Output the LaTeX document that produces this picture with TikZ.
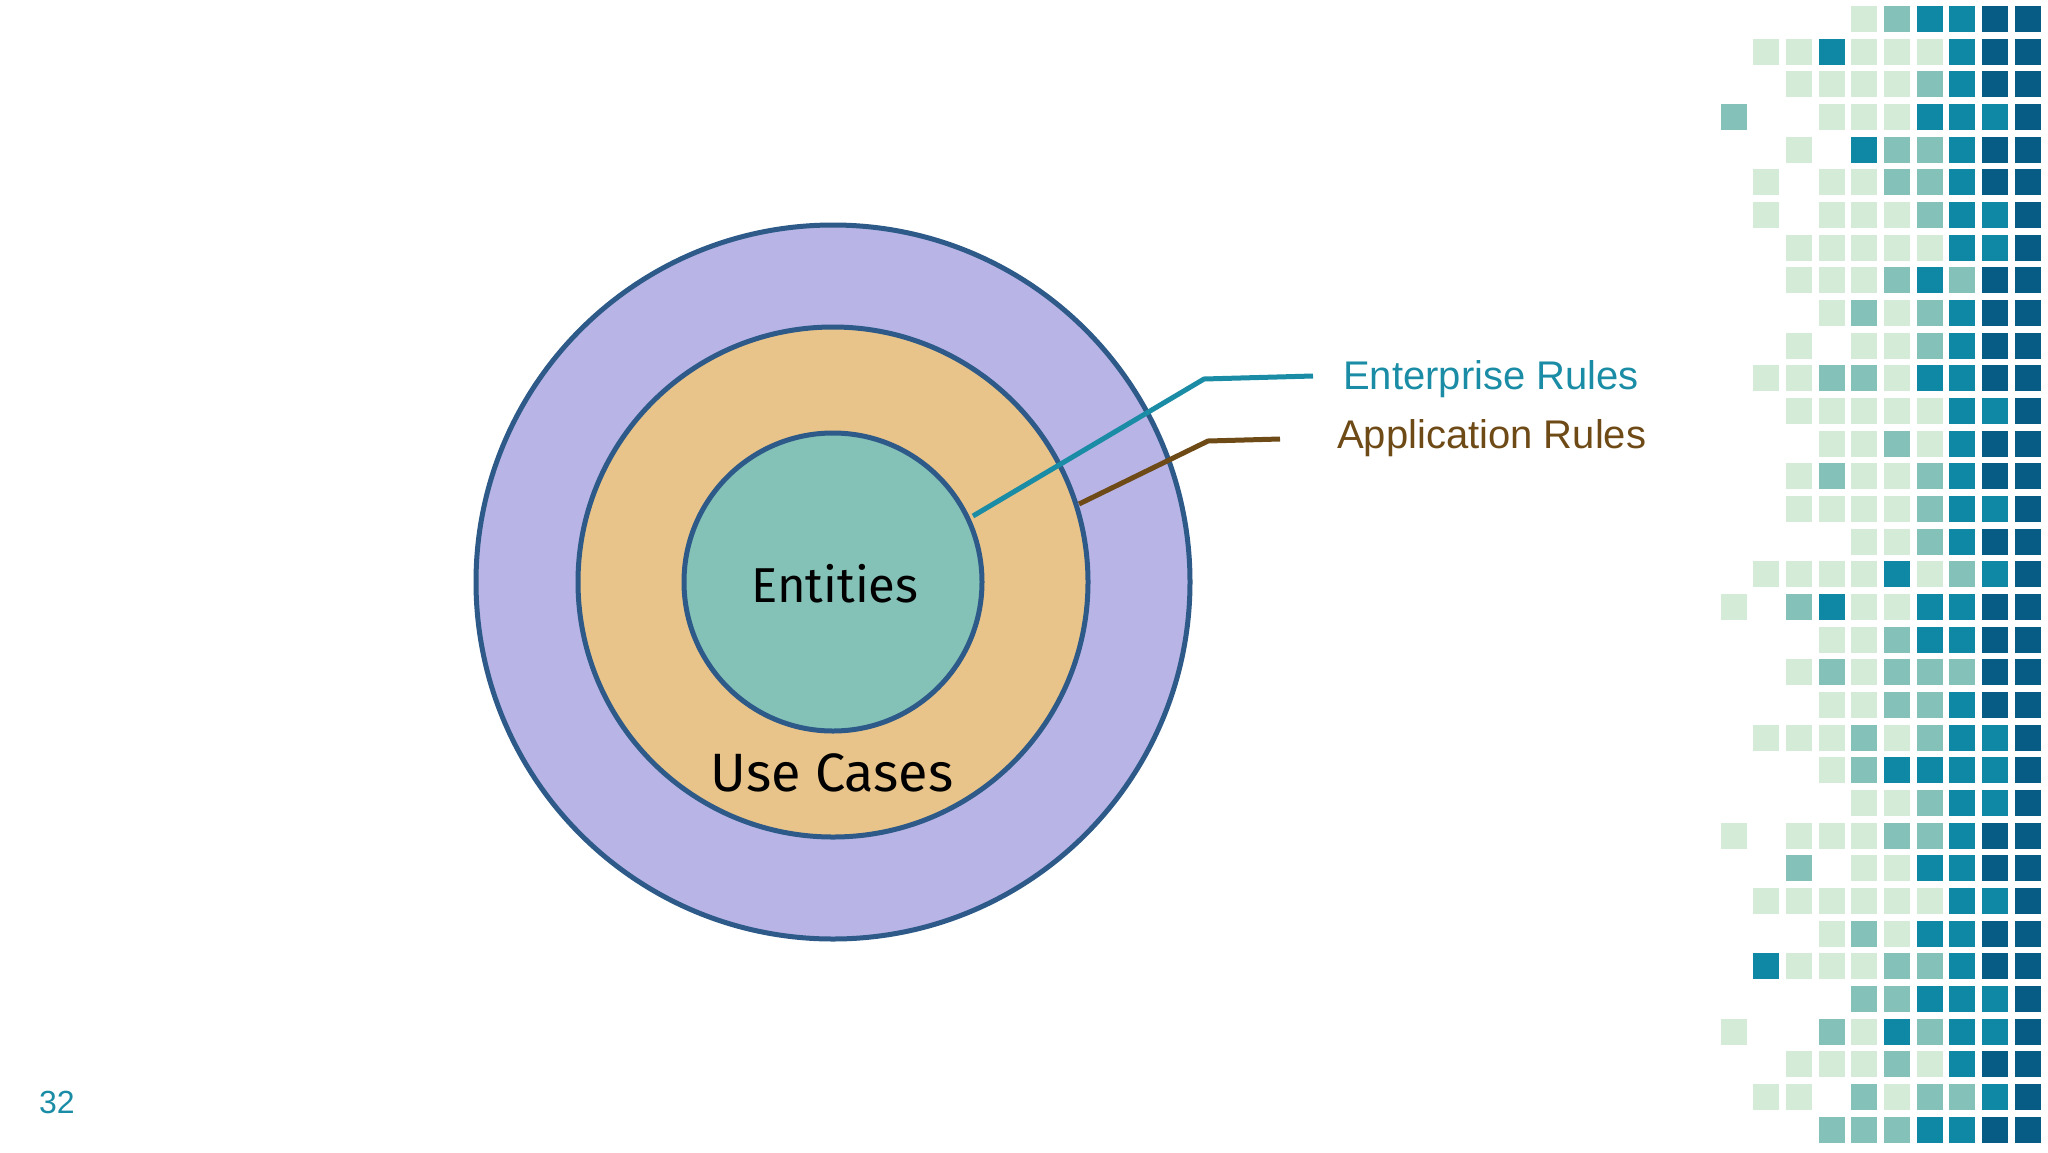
\documentclass[tikz,border=0pt]{standalone}
\usepackage{fontspec}
\setmainfont{Liberation Sans}
\newfontfamily\labfont{Fira Sans}
\definecolor{cA}{HTML}{D4EBD8}
\definecolor{cB}{HTML}{84C1B8}
\definecolor{cC}{HTML}{0E88A4}
\definecolor{cD}{HTML}{065C84}
\definecolor{ring}{HTML}{2D5A88}
\definecolor{outerf}{HTML}{B8B4E6}
\definecolor{midf}{HTML}{E8C48A}
\definecolor{innf}{HTML}{84C2B8}
\definecolor{entc}{HTML}{1A8CA5}
\definecolor{appc}{HTML}{6E4A17}
\begin{document}
\begin{tikzpicture}[x=1pt,y=-1pt,
  ringc/.style={circle,draw=ring,line width=5pt,inner sep=0pt},
  lead/.style={line width=5pt},
  ringlabel/.style={font=\labfont\fontsize{54}{60}\selectfont,text=black},
  sidelabel/.style={anchor=base west,font=\fontsize{40}{44}\selectfont,inner sep=0pt}]
\useasboundingbox (0,0) rectangle (2048,1152);
\node[ringc,fill=outerf,minimum size=714pt] (outer) at (833,582) {};
\node[ringc,fill=midf,minimum size=510pt] (mid) at (833,582) {};
\node[ringc,fill=innf,minimum size=298pt] (inn) at (833,582) {};
\node[ringlabel,font=\labfont\fontsize{49}{56}\selectfont] (ent) at (835,584) {Entities};
\node[ringlabel] (uc) at (832,773) {Use Cases};
\coordinate (e0) at (973,516); \coordinate (e1) at (1204,379); \coordinate (e2) at (1313,376);
\coordinate (a0) at (1079,504); \coordinate (a1) at (1208,441); \coordinate (a2) at (1280,439);
\draw[lead,entc] (e0) -- (e1) -- (e2);
\draw[lead,appc] (a0) -- (a1) -- (a2);
\node[sidelabel,text=entc] (er) at (1343,389) {Enterprise Rules};
\node[sidelabel,text=appc] (app) at (1337,448) {Application Rules};
\node[text=entc,font=\fontsize{32}{36}\selectfont] (pg) at (57,1102) {32};
\foreach \row [count=\r from 0] in {
{0,0,0,0,1,2,3,3,4,4},{0,1,1,3,1,1,1,3,4,4},{0,0,1,1,1,1,2,3,4,4},{2,0,0,1,1,1,3,3,3,4},
{0,0,1,0,3,2,2,3,4,4},{0,1,0,1,1,2,2,3,4,4},{0,1,0,1,1,1,2,3,3,4},{0,0,1,1,1,1,1,3,3,4},
{0,0,1,1,1,2,3,2,4,4},{0,0,0,1,2,1,2,3,4,4},{0,0,1,0,1,1,2,3,4,4},{0,1,1,2,2,1,3,3,4,4},
{0,0,1,1,1,1,1,3,3,4},{0,0,0,1,1,2,1,3,4,4},{0,0,1,2,1,1,2,3,4,4},{0,0,1,1,1,1,2,3,3,4},
{0,0,0,0,1,1,2,3,4,4},{0,1,1,1,1,3,1,2,3,4},{1,0,2,3,1,1,3,3,4,4},{0,0,0,1,1,2,3,3,4,4},
{0,0,1,2,1,2,2,2,4,4},{0,0,0,1,1,2,2,3,4,4},{0,1,1,1,2,1,2,3,3,4},{0,0,0,1,2,3,3,3,3,4},
{0,0,0,0,1,1,2,3,3,4},{1,0,1,1,1,2,2,3,4,4},{0,0,2,0,1,1,3,3,4,4},{0,1,1,1,1,1,1,3,3,4},
{0,0,0,1,2,1,3,3,4,4},{0,3,1,1,1,2,2,3,4,4},{0,0,0,0,2,2,3,3,3,4},{1,0,0,2,1,3,2,3,3,4},
{0,0,1,1,1,2,1,3,4,4},{0,1,1,0,2,1,2,2,3,4},{0,0,0,2,2,2,3,3,4,4}}{
  \foreach \v [count=\c from 0] in \row {
    \ifcase\v\relax
    \or \fill[cA] (1720.7+32.67*\c,6+32.67*\r) rectangle ++(26,26);
    \or \fill[cB] (1720.7+32.67*\c,6+32.67*\r) rectangle ++(26,26);
    \or \fill[cC] (1720.7+32.67*\c,6+32.67*\r) rectangle ++(26,26);
    \or \fill[cD] (1720.7+32.67*\c,6+32.67*\r) rectangle ++(26,26);
    \fi
  }
}
\end{tikzpicture}
\end{document}
